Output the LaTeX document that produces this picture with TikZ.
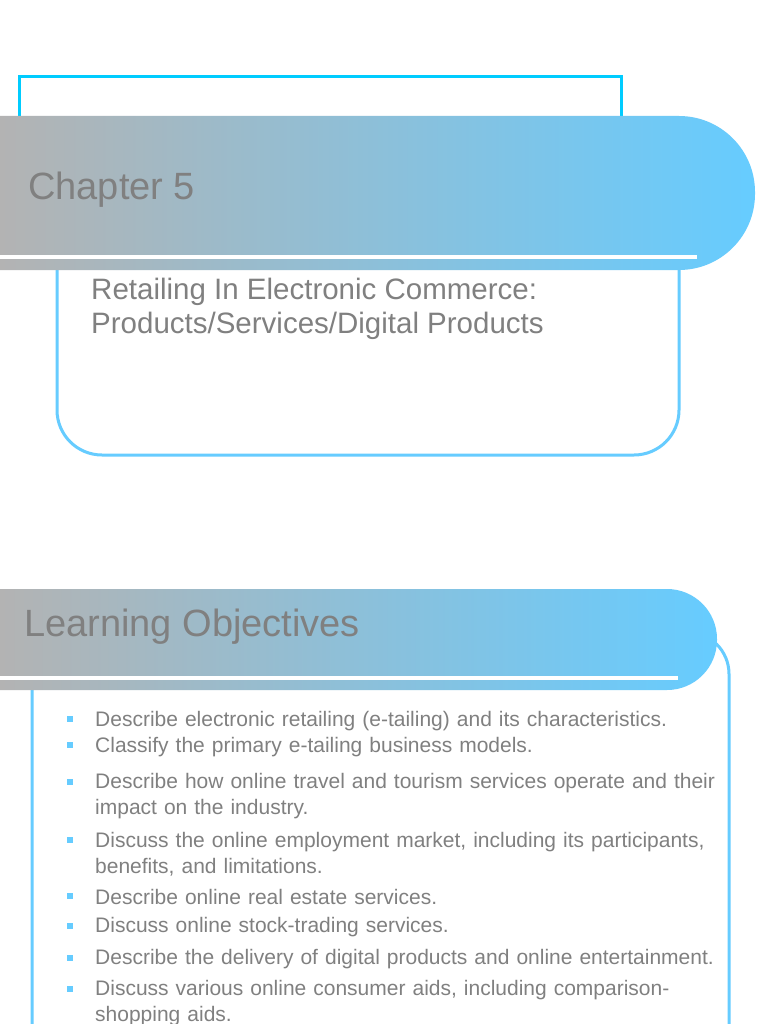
\documentclass[tikz,border=0pt]{standalone}
\usepackage{fontspec}
\setmainfont{Liberation Sans}
\definecolor{cyanA}{HTML}{00CCFF}
\definecolor{skyB}{HTML}{66CCFF}
\definecolor{grayL}{HTML}{B3B3B3}
\definecolor{txt}{HTML}{808080}
\begin{document}
\begin{tikzpicture}[x=1pt,y=1pt,
  bul/.style={anchor=west,inner sep=0pt,text=txt,font=\fontsize{21}{26}\selectfont,align=left,text width=660pt}]
\useasboundingbox[fill=white] (0,0) rectangle (768,-1024);
% ---------- slide 1
\draw[cyanA,line width=3pt] (19,-200) -- (19,-77) -- (621,-77) -- (621,-200);
\draw[skyB,line width=3pt,rounded corners=45] (57,-200) -- (57,-455) -- (679,-455) -- (679,-200);
\shade[left color=grayL,right color=skyB] (0,-270) -- (0,-116) [rounded corners=76] -- (755,-116) -- (755,-270) [sharp corners] -- cycle;
\fill[white] (0,-255) rectangle (697,-259);
\node[anchor=west,inner sep=0pt,text=txt,font=\fontsize{38}{42}\selectfont] (t1) at (28,-190) {Chapter 5};
\node[anchor=north west,inner sep=0pt,text=txt,font=\fontsize{29.5}{34}\selectfont,align=left] (s1) at (91,-278) {Retailing In Electronic Commerce:\\Products/Services/Digital Products};
% ---------- slide 2
\draw[skyB,line width=3pt,rounded corners=42] (32,-1030) -- (32,-632) -- (729,-632) -- (729,-1030);
\shade[left color=grayL,right color=skyB] (0,-690) -- (0,-589) [rounded corners=50] -- (717,-589) -- (717,-690) [sharp corners] -- cycle;
\fill[white] (0,-676) rectangle (678,-680);
\node[anchor=west,inner sep=0pt,text=txt,font=\fontsize{38}{42}\selectfont] (t2) at (24,-627) {Learning Objectives};
\foreach \y/\t in {
 721/{Describe electronic retailing (e-tailing) and its characteristics.},
 747/{Classify the primary e-tailing business models.},
 796/{Describe how online travel and tourism services operate and their\\impact on the industry.},
 854/{Discuss the online employment market, including its participants,\\benefits, and limitations.},
 897/{Describe online real estate services.},
 927/{Discuss online stock-trading services.},
 959/{Describe the delivery of digital products and online entertainment.},
 1003/{Discuss various online consumer aids, including comparison-\\shopping aids.}}{
  \node[bul] (b\y) at (95,-\y) {\t};
}
\foreach \y in {719,745,782,840,896,926,958,989}{
  \fill[skyB] (67,-\y+3) rectangle (73,-\y-3);
}
\end{tikzpicture}
\end{document}
